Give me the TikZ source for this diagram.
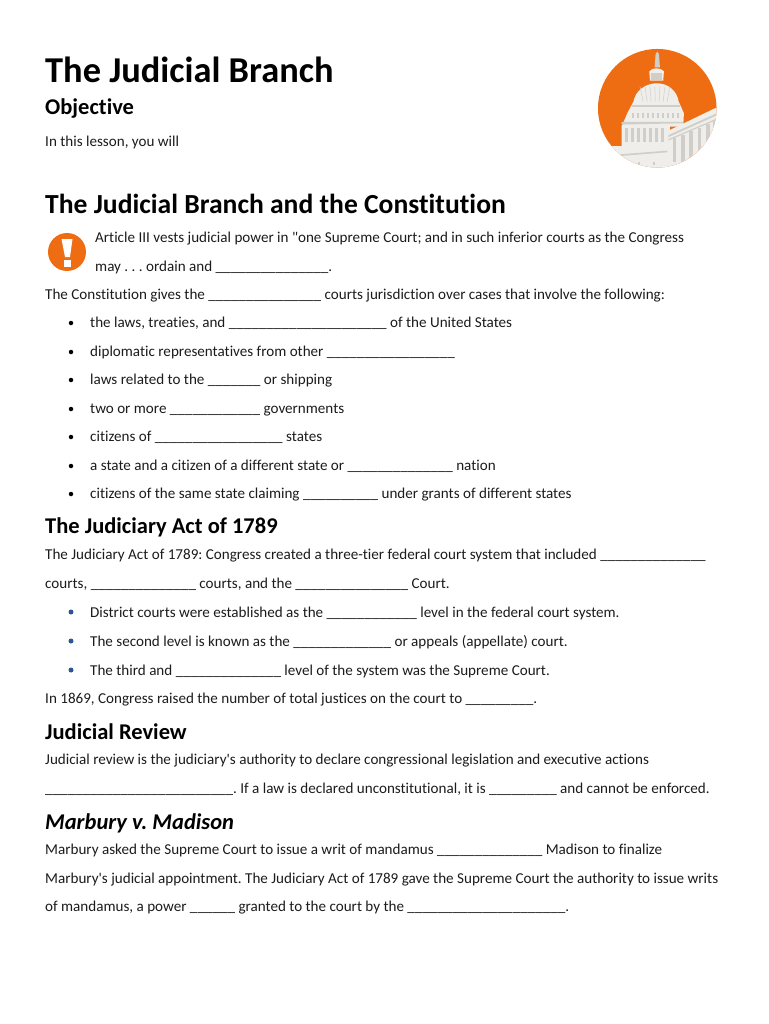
\documentclass[tikz,border=0pt]{standalone}
\usepackage{fontspec}
\newfontfamily\pagefont{Carlito}[Ligatures=NoCommon]
\catcode`\_=12
\definecolor{inkc}{HTML}{1C1C1C}
\definecolor{orangec}{HTML}{EE6C12}
\definecolor{dotblue}{HTML}{2F5597}
\definecolor{stonec}{HTML}{EFEEEA}
\definecolor{shadec}{HTML}{CFCEC8}
\tikzset{
  linetext/.style={anchor=base west,inner sep=0pt,text=inkc,font=\frenchspacing\pagefont\fontsize{15.1}{18}\selectfont},
  titletext/.style={anchor=base west,inner sep=0pt,text=black,font=\pagefont\fontsize{36.4}{40}\selectfont\bfseries},
  headtext/.style={anchor=base west,inner sep=0pt,text=black,font=\pagefont\fontsize{27.6}{32}\selectfont\bfseries},
  subtext/.style={anchor=base west,inner sep=0pt,text=black,font=\frenchspacing\pagefont\fontsize{22.5}{26}\selectfont\bfseries},
  dotk/.style={circle,fill=black,inner sep=0pt,minimum size=4.5pt},
  dotb/.style={circle,fill=dotblue,inner sep=0pt,minimum size=5pt},
  stone/.style={fill=stonec,draw=none},
  shade/.style={fill=shadec,draw=none},
}
\begin{document}
\begin{tikzpicture}[x=1pt,y=-1pt]
\useasboundingbox (0,0) rectangle (768,1024);
\fill[white] (0,0) rectangle (768,1024);

% top of page
\node[titletext] (P1) at (45,83) {The Judicial Branch};
\node[subtext] (P2) at (45,115) {Objective};
\node[linetext] (P3) at (45,147) {In this lesson, you will};

% capitol picture, numbers read off the crop
\begin{scope}[shift={(580,30)},x=0.333pt,y=-0.333pt]
\fill[orangec] (232,235) circle (178);
\clip (232,235) circle (178);
\fill[shade] (224,112) -- (227,72) -- (232,65) -- (237,72) -- (240,112) -- cycle;
\fill[stone] (208,124) .. controls (218,112) and (242,112) .. (252,124) -- (250,152) -- (210,152) -- cycle;
\fill[shade] (213,130) rectangle (247,150);
\fill[stone] (160,218) .. controls (165,180) and (200,160) .. (230,160) .. controls (262,160) and (292,180) .. (297,218) -- cycle;
\foreach \cx in {180,195,210,225,240,255,270} \draw[shadec,line width=0.5pt] (\cx,170) -- (0.8*\cx+45.6,215);
\fill[stone] (142,250) -- (160,216) -- (297,216) -- (312,250) -- (310,290) -- (125,290) -- cycle;
\fill[shade] (155,226) rectangle (300,231);
\foreach \cx in {155,170,185,200,215,230,245,260,275,290} \fill[shade] (\cx,248) rectangle (\cx+8,264);
\fill[stone] (125,288) -- (270,280) -- (270,350) -- (125,350) -- cycle;
\fill[shade] (125,276) -- (310,276) -- (310,280) -- (125,284) -- cycle;
\foreach \cx in {136,154,172,190,208,226,244} \fill[shade] (\cx,293) rectangle (\cx+9,336);
\fill[stone] (60,350) -- (270,345) -- (270,430) -- (60,430) -- cycle;
\fill[shade] (100,375) -- (265,362) -- (265,367) -- (100,380) -- cycle;
\fill[shade] (175,396) rectangle (181,405);
\fill[shade] (220,396) rectangle (226,405);
\fill[stone] (262,304) -- (420,228) -- (420,420) -- (262,420) -- cycle;
\fill[shade] (265,316) -- (420,246) -- (420,252) -- (265,322) -- cycle;
\fill[shade] (265,328) -- (420,262) -- (420,266) -- (265,332) -- cycle;
\foreach \cx in {278,303,328,353,378,400} \fill[shade] (\cx,442-0.42*\cx) rectangle (\cx+11,395);
\end{scope}

\node[headtext] (P4) at (45,214) {The Judicial Branch and the Constitution};

% warning sign
\fill[orangec] (67,252) circle (19);
\fill[white] (61.5,239) -- (72.5,239) -- (70,257) -- (65,257) -- cycle;
\fill[white] (64,259.5) rectangle (70.5,267);

\node[linetext] (P5) at (95,242) {Article III vests judicial power in "one Supreme Court; and in such inferior courts as the Congress};
\node[linetext] (P6) at (95,271) {may . . . ordain and _______________.};
\node[linetext] (P7) at (45,299) {The Constitution gives the _______________ courts jurisdiction over cases that involve the following:};

\node[dotk] (D1) at (71,323) {};
\node[linetext] (L1) at (90,327) {the laws, treaties, and _____________________ of the United States};
\node[dotk] (D2) at (71,352) {};
\node[linetext] (L2) at (90,356) {diplomatic representatives from other _________________};
\node[dotk] (D3) at (71,380) {};
\node[linetext] (L3) at (90,384) {laws related to the _______ or shipping};
\node[dotk] (D4) at (71,409) {};
\node[linetext] (L4) at (90,413) {two or more ____________ governments};
\node[dotk] (D5) at (71,437) {};
\node[linetext] (L5) at (90,441) {citizens of _________________ states};
\node[dotk] (D6) at (71,466) {};
\node[linetext] (L6) at (90,470) {a state and a citizen of a different state or ______________ nation};
\node[dotk] (D7) at (71,494) {};
\node[linetext] (L7) at (90,498) {citizens of the same state claiming __________ under grants of different states};

\node[subtext] (P8) at (45,533) {The Judiciary Act of 1789};
\node[linetext] (P9) at (45,559) {The Judiciary Act of 1789: Congress created a three-tier federal court system that included ______________};
\node[linetext] (P10) at (45,588) {courts, ______________ courts, and the _______________ Court.};

\node[dotb] (D8) at (71,612) {};
\node[linetext] (L8) at (90,617) {District courts were established as the ____________ level in the federal court system.};
\node[dotb] (D9) at (71,641) {};
\node[linetext] (L9) at (90,646) {The second level is known as the _____________ or appeals (appellate) court.};
\node[dotb] (D10) at (71,670) {};
\node[linetext] (L10) at (90,675) {The third and ______________ level of the system was the Supreme Court.};
\node[linetext] (P11) at (45,703) {In 1869, Congress raised the number of total justices on the court to _________.};

\node[subtext] (P12) at (45,739) {Judicial Review};
\node[linetext] (P13) at (45,764) {Judicial review is the judiciary's authority to declare congressional legislation and executive actions};
\node[linetext] (P14) at (45,793) {_________________________. If a law is declared unconstitutional, it is _________ and cannot be enforced.};

\node[subtext,font=\frenchspacing\pagefont\fontsize{22.5}{26}\selectfont\bfseries\itshape] (P15) at (45,829) {Marbury v. Madison};
\node[linetext] (P16) at (45,854) {Marbury asked the Supreme Court to issue a writ of mandamus ______________ Madison to finalize};
\node[linetext] (P17) at (45,883) {Marbury's judicial appointment. The Judiciary Act of 1789 gave the Supreme Court the authority to issue writs};
\node[linetext] (P18) at (45,911) {of mandamus, a power ______ granted to the court by the _____________________.};
\end{tikzpicture}
\end{document}
